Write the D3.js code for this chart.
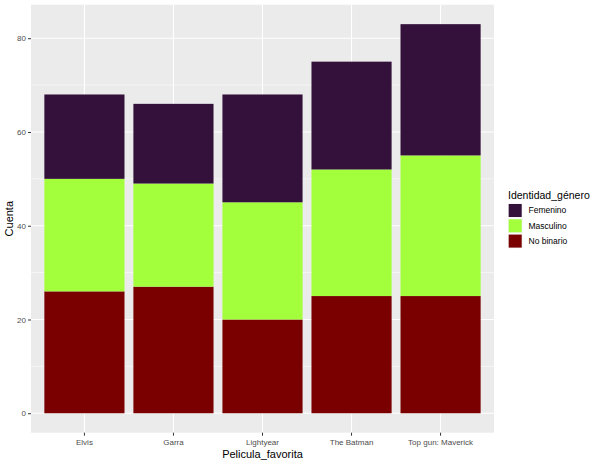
<!DOCTYPE html>
<html lang="es">
<head>
<meta charset="UTF-8">
<title>Pelicula_favorita por Identidad_género</title>
<style>
    body { margin: 0; background: #fff; font-family: Arial, "Liberation Sans", sans-serif; }
    .tick text { fill: #4D4D4D; font-size: 8px; }
    .tick line { stroke: #333; }
</style>
</head>
<body>
<svg id="chart" width="600" height="463"></svg>
<script src="https://d3js.org/d3.v7.min.js"></script>
<script>
    // Data
    const peliculas = ["Elvis", "Garra", "Lightyear", "The Batman", "Top gun: Maverick"];
    const generos = ["Femenino", "Masculino", "No binario"];
    const noBinario = [26, 27, 20, 25, 25];
    const masculino = [24, 22, 25, 27, 30];
    const femenino = [18, 17, 23, 23, 28];
    const yTicks = [0, 20, 40, 60, 80];
    const yMinor = [10, 30, 50, 70];
    const colores = ["#33113A", "#A3FF3C", "#7A0000"];

    const rows = peliculas.map((p, i) => ({
        pelicula: p,
        "No binario": noBinario[i],
        "Masculino": masculino[i],
        "Femenino": femenino[i]
    }));

    const svg = d3.select("#chart");
    const panel = { left: 31, top: 4.7, right: 494, bottom: 432.7 };

    // stack order: No binario at bottom, Femenino on top
    const stack = d3.stack().keys(["No binario", "Masculino", "Femenino"]);
    const series = stack(rows);
    const maxVal = d3.max(series[series.length - 1], d => d[1]);

    const y = d3.scaleLinear()
        .domain([-maxVal * 0.05, maxVal * 1.05])
        .range([panel.bottom, panel.top]);

    // discrete scale with 0.6 expansion each side, bars 0.9 wide
    const step = (panel.right - panel.left) / (peliculas.length + 0.2);
    const x = d3.scaleBand()
        .domain(peliculas)
        .range([panel.left + 0.1 * step, panel.right - 0.1 * step])
        .paddingInner(0.1)
        .paddingOuter(0.05);

    const color = d3.scaleOrdinal().domain(generos).range(colores);

    // panel background
    svg.append("rect")
        .attr("x", panel.left).attr("y", panel.top)
        .attr("width", panel.right - panel.left)
        .attr("height", panel.bottom - panel.top)
        .attr("fill", "#EBEBEB");

    const grid = svg.append("g");
    grid.selectAll(".minor").data(yMinor).enter().append("line")
        .attr("x1", panel.left).attr("x2", panel.right)
        .attr("y1", d => y(d)).attr("y2", d => y(d))
        .attr("stroke", "#fff").attr("stroke-width", 0.55);
    grid.selectAll(".major").data(yTicks).enter().append("line")
        .attr("x1", panel.left).attr("x2", panel.right)
        .attr("y1", d => y(d)).attr("y2", d => y(d))
        .attr("stroke", "#fff").attr("stroke-width", 1.1);
    grid.selectAll(".vmajor").data(peliculas).enter().append("line")
        .attr("x1", d => x(d) + x.bandwidth() / 2).attr("x2", d => x(d) + x.bandwidth() / 2)
        .attr("y1", panel.top).attr("y2", panel.bottom)
        .attr("stroke", "#fff").attr("stroke-width", 1.1);

    // bars
    svg.append("g").selectAll("g")
        .data(series)
        .enter().append("g")
        .attr("fill", d => color(d.key))
        .selectAll("rect")
        .data(d => d)
        .enter().append("rect")
        .attr("x", d => x(d.data.pelicula))
        .attr("y", d => y(d[1]))
        .attr("width", x.bandwidth())
        .attr("height", d => y(d[0]) - y(d[1]));

    // axes
    const xAxis = svg.append("g")
        .attr("transform", `translate(0,${panel.bottom})`)
        .call(d3.axisBottom(x).tickSize(3).tickPadding(3));
    xAxis.select(".domain").remove();
    xAxis.selectAll(".tick text").attr("dy", "0.8em");

    const yAxis = svg.append("g")
        .attr("transform", `translate(${panel.left},0)`)
        .call(d3.axisLeft(y).tickValues(yTicks).tickSize(3).tickPadding(2));
    yAxis.select(".domain").remove();

    // axis titles
    svg.append("text")
        .attr("x", (panel.left + panel.right) / 2).attr("y", 458)
        .attr("text-anchor", "middle")
        .attr("font-size", 11).attr("fill", "#000")
        .text("Pelicula_favorita");

    svg.append("text")
        .attr("transform", `translate(13,${(panel.top + panel.bottom) / 2}) rotate(-90)`)
        .attr("text-anchor", "middle")
        .attr("font-size", 11).attr("fill", "#000")
        .text("Cuenta");

    // legend
    const legend = svg.append("g").attr("transform", "translate(508,0)");
    legend.append("text")
        .attr("x", 0).attr("y", 199)
        .attr("font-size", 10.5).attr("fill", "#000")
        .text("Identidad_género");

    const keys = legend.selectAll(".key").data(generos).enter().append("g")
        .attr("transform", (d, i) => `translate(0,${203.3 + i * 15.3})`);
    keys.append("rect")
        .attr("width", 14.4).attr("height", 14.4)
        .attr("fill", "#F2F2F2");
    keys.append("rect")
        .attr("x", 0.7).attr("y", 0.7)
        .attr("width", 13).attr("height", 13)
        .attr("fill", d => color(d));
    keys.append("text")
        .attr("x", 20.5).attr("y", 7.2)
        .attr("dy", "0.35em")
        .attr("font-size", 8.5).attr("fill", "#000")
        .text(d => d);
</script>
</body>
</html>
